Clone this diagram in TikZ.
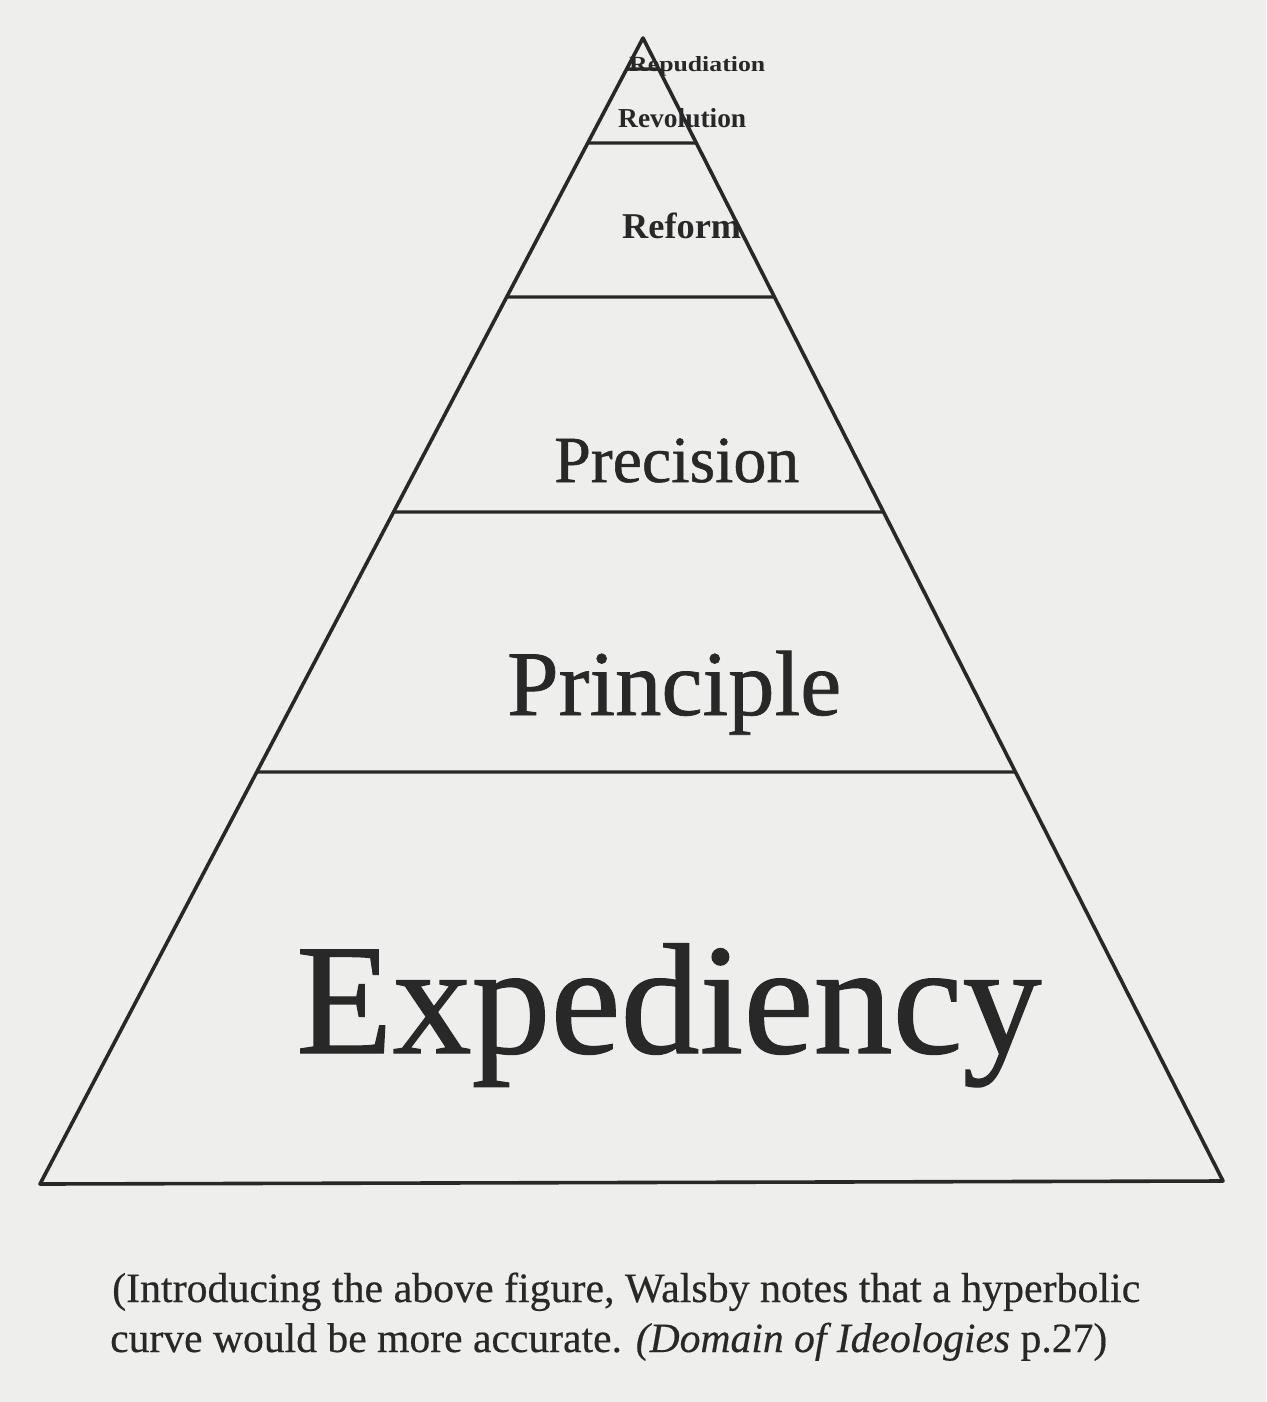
\documentclass[tikz,border=0pt]{standalone}
\usepackage{fontspec}
\usepackage{graphicx}
\setmainfont{Liberation Serif}
\newfontfamily\heavy[FakeBold=0.8]{Liberation Serif}
\newfontfamily\capfont[FakeBold=0.4]{Liberation Serif}
\usetikzlibrary{calc}
\definecolor{paper}{RGB}{238,238,236}
\definecolor{ink}{RGB}{40,40,40}
\tikzset{
  edge/.style={draw=ink, line width=3.6pt, line join=round, line cap=round},
  tier/.style={draw=ink, line width=3.4pt},
  lbl/.style={inner sep=0pt, anchor=base west, text=ink},
}
\begin{document}
\begin{tikzpicture}[x=1pt,y=-1pt]
\fill[paper] (0,0) rectangle (1266,1402);
\useasboundingbox (0,0) rectangle (1266,1402);
% pyramid corners
\coordinate (A) at (643,38);
\coordinate (L) at (40,1184);
\coordinate (R) at (1223,1181);
\draw[edge] (A) -- (L) -- (R) -- cycle;
% tier boundaries
\coordinate (l0) at ($(A)!0.0271!(L)$); \coordinate (r0) at ($(A)!0.0271!(R)$);
\coordinate (l1) at ($(A)!0.0916!(L)$); \coordinate (r1) at ($(A)!0.0919!(R)$);
\coordinate (l2) at ($(A)!0.2260!(L)$); \coordinate (r2) at ($(A)!0.2266!(R)$);
\coordinate (l3) at ($(A)!0.4136!(L)$); \coordinate (r3) at ($(A)!0.4147!(R)$);
\coordinate (l4) at ($(A)!0.6405!(L)$); \coordinate (r4) at ($(A)!0.6422!(R)$);
\draw[tier] (l0) -- (r0);
\draw[tier] (l1) -- (r1);
\draw[tier] (l2) -- (r2);
\draw[tier] (l3) -- (r3);
\draw[tier] (l4) -- (r4);
% labels
\node[lbl] (repud) at (629,72) {\resizebox{136pt}{15pt}{\bfseries Repudiation}};
\node[lbl] (revol) at (618,128) {\resizebox{128pt}{!}{\bfseries Revolution}};
\node[lbl] (reform) at (622,238) {\resizebox{119pt}{!}{\bfseries Reform}};
\node[lbl] (precis) at (554,482) {\resizebox{245pt}{!}{\heavy Precision}};
\node[lbl] (princ) at (507,715) {\resizebox{334pt}{!}{\heavy Principle}};
\node[lbl] (exped) at (296,1053) {\resizebox{745pt}{!}{\heavy Expediency}};
% caption
\node[lbl] (cap1) at (112,1302) {\resizebox{1028pt}{!}{\capfont (Introducing the above figure, Walsby notes that a hyperbolic}};
\node[lbl] (cap2) at (110,1352) {\resizebox{997pt}{!}{\capfont curve would be more accurate. \textit{(Domain of Ideologies} p.27)}};
\end{tikzpicture}
\end{document}
